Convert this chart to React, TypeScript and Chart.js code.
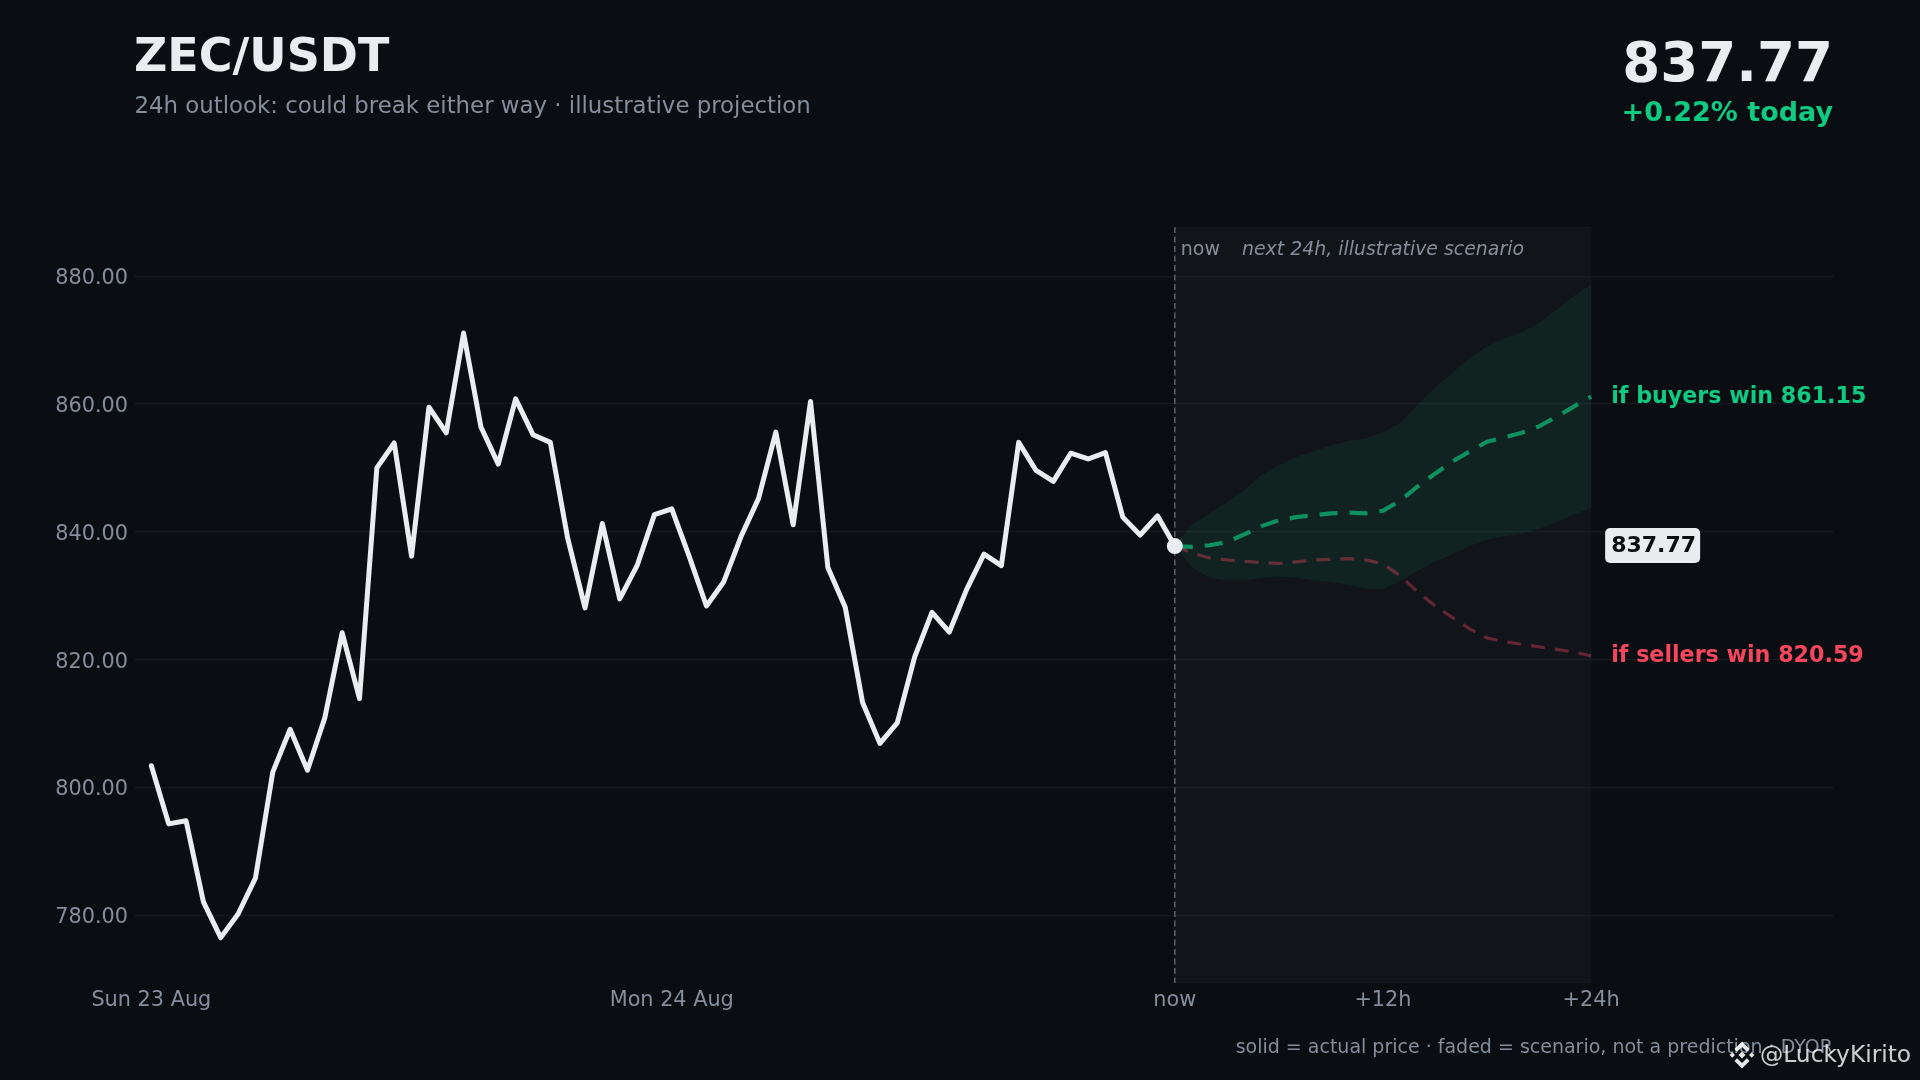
import { useEffect, useRef } from 'react';
import Chart from 'chart.js/auto';

const priceHistory = [
  803.4, 794.3, 794.8, 782.1, 776.5, 780.2, 785.8, 802.4, 809.1, 802.7,
  810.9, 824.2, 813.9, 850.0, 853.9, 836.2, 859.5, 855.5, 871.1, 856.4,
  850.6, 860.8, 855.2, 854.0, 839.0, 828.1, 841.3, 829.5, 834.7, 842.7,
  843.6, 836.2, 828.4, 832.2, 839.3, 845.2, 855.6, 841.1, 860.4, 834.4,
  828.2, 813.3, 806.9, 810.1, 820.4, 827.4, 824.3, 831.0, 836.5, 834.7,
  854.0, 849.6, 847.9, 852.3, 851.4, 852.4, 842.3, 839.5, 842.5, 837.77,
];
const buyersPath = [
  837.77, 837.66, 837.9, 838.4, 839.6, 840.9, 841.8, 842.3, 842.6, 842.9, 843.0, 842.9, 843.3,
  844.9, 847.1, 849.1, 851.0, 852.6, 854.1, 854.8, 855.5, 856.5, 858.0, 859.6, 861.15,
];
const sellersPath = [
  837.77, 836.7, 835.9, 835.6, 835.4, 835.2, 835.05, 835.3, 835.6, 835.7, 835.8, 835.6, 835.0,
  833.1, 830.6, 828.4, 826.6, 824.8, 823.4, 822.8, 822.4, 822.0, 821.6, 821.2, 820.59,
];
const bandUpper = [
  837.77, 841.1, 842.9, 844.6, 846.5, 848.9, 850.4, 851.7, 852.6, 853.5, 854.2, 854.6, 855.6,
  857.0, 859.9, 862.6, 864.9, 867.2, 869.0, 870.3, 871.2, 872.7, 874.7, 876.9, 878.7,
];
const bandLower = [
  837.77, 834.4, 832.8, 832.4, 832.4, 832.8, 833.0, 832.8, 832.4, 832.1, 831.7, 831.1, 831.0,
  832.3, 833.9, 835.3, 836.5, 837.8, 838.8, 839.3, 839.7, 840.5, 841.5, 842.7, 843.8,
];
const yTicks = [780, 800, 820, 840, 860, 880];
const xTicks = [-59, -29, 0, 12, 24];
const xTickLabels = ['Sun 23 Aug', 'Mon 24 Aug', 'now', '+12h', '+24h'];

const lastPrice = 837.77;
const buyersTarget = 861.15;
const sellersTarget = 820.59;

const BG = '#0a0e12';
const WHITE = '#eaecef';
const GREY = '#848e9c';
const GREEN = '#0ecb81';
const RED = '#f6465d';
const FONT = '"DejaVu Sans", sans-serif';

const past = priceHistory.map((y, i) => ({ x: i - priceHistory.length + 1, y }));
const future = (arr: number[]) => arr.map((y, i) => ({ x: i, y }));

function text(
  ctx: CanvasRenderingContext2D,
  str: string,
  x: number,
  y: number,
  font: string,
  color: string,
  align: CanvasTextAlign = 'left',
  baseline: CanvasTextBaseline = 'alphabetic',
) {
  ctx.font = font;
  ctx.fillStyle = color;
  ctx.textAlign = align;
  ctx.textBaseline = baseline;
  ctx.fillText(str, x, y);
}

// binance mark in the watermark
function drawLogo(ctx: CanvasRenderingContext2D, cx: number, cy: number, r: number) {
  const diamond = (x: number, y: number, s: number) => {
    ctx.beginPath();
    ctx.moveTo(x, y - s);
    ctx.lineTo(x + s, y);
    ctx.lineTo(x, y + s);
    ctx.lineTo(x - s, y);
    ctx.closePath();
    ctx.fill();
  };
  const chevron = (dir: number) => {
    const a = r * 0.56;
    const t = r * 0.2;
    ctx.beginPath();
    ctx.moveTo(cx, cy + dir * r);
    ctx.lineTo(cx + a, cy + dir * (r - a));
    ctx.lineTo(cx + a - t, cy + dir * (r - a - t));
    ctx.lineTo(cx, cy + dir * (r - 2 * t));
    ctx.lineTo(cx - a + t, cy + dir * (r - a - t));
    ctx.lineTo(cx - a, cy + dir * (r - a));
    ctx.closePath();
    ctx.fill();
  };
  ctx.fillStyle = 'rgba(255,255,255,0.9)';
  diamond(cx, cy, r * 0.26);
  diamond(cx - r * 0.72, cy, r * 0.2);
  diamond(cx + r * 0.72, cy, r * 0.2);
  chevron(-1);
  chevron(1);
}

const annotations = {
  id: 'annotations',
  beforeDraw(chart: any) {
    const { ctx, width, height } = chart;
    ctx.save();
    ctx.fillStyle = BG;
    ctx.fillRect(0, 0, width, height);
    ctx.restore();
  },
  beforeDatasetsDraw(chart: any) {
    const { ctx, chartArea, scales } = chart;
    const x0 = scales.x.getPixelForValue(0);
    const x24 = scales.x.getPixelForValue(24);
    ctx.save();
    ctx.fillStyle = 'rgba(255,255,255,0.03)';
    ctx.fillRect(x0, chartArea.top, x24 - x0, chartArea.bottom - chartArea.top);
    ctx.strokeStyle = 'rgba(255,255,255,0.03)';
    ctx.lineWidth = 1;
    ctx.strokeRect(x0, chartArea.top, x24 - x0, chartArea.bottom - chartArea.top);
    ctx.strokeStyle = '#5b6068';
    ctx.lineWidth = 1.5;
    ctx.setLineDash([6, 3.5]);
    ctx.beginPath();
    ctx.moveTo(x0, chartArea.top);
    ctx.lineTo(x0, chartArea.bottom);
    ctx.stroke();
    ctx.restore();
  },
  afterDatasetsDraw(chart: any) {
    const { ctx, scales } = chart;
    const x = scales.x;
    const y = scales.y;
    const labelX = x.getPixelForValue(24) + 20;
    ctx.save();

    text(ctx, 'ZEC/USDT', 134, 71, `bold 46px ${FONT}`, WHITE);
    text(ctx, '24h outlook: could break either way · illustrative projection', 134.5, 113, `22.85px ${FONT}`, GREY);
    text(ctx, '837.77', 1833, 81, `bold 54.6px ${FONT}`, WHITE, 'right');
    text(ctx, '+0.22% today', 1833, 121, `bold 27px ${FONT}`, GREEN, 'right');

    text(ctx, 'now', x.getPixelForValue(0) + 6, 250, `19px ${FONT}`, GREY, 'left', 'middle');
    text(ctx, 'next 24h, illustrative scenario', 1242, 250, `italic 18.9px ${FONT}`, GREY, 'left', 'middle');

    text(ctx, `if buyers win ${buyersTarget.toFixed(2)}`, labelX, y.getPixelForValue(buyersTarget) + 0.5, `bold 22.2px ${FONT}`, GREEN, 'left', 'middle');
    text(ctx, `if sellers win ${sellersTarget.toFixed(2)}`, labelX, y.getPixelForValue(sellersTarget), `bold 22.2px ${FONT}`, RED, 'left', 'middle');

    const tagY = y.getPixelForValue(lastPrice);
    ctx.fillStyle = WHITE;
    ctx.beginPath();
    ctx.roundRect(labelX - 6, tagY - 18, 95, 35, 5);
    ctx.fill();
    text(ctx, lastPrice.toFixed(2), labelX, tagY + 0.5, `bold 22px ${FONT}`, '#0a0e12', 'left', 'middle');

    text(ctx, 'solid = actual price · faded = scenario, not a prediction · DYOR', 1833, 1048.5, `19px ${FONT}`, GREY, 'right', 'middle');

    drawLogo(ctx, 1742, 1055, 13.5);
    text(ctx, '@LuckyKirito', 1760, 1056, `23.3px ${FONT}`, 'rgba(255,255,255,0.8)', 'left', 'middle');
    ctx.restore();
  },
};

export default function App() {
  const canvasRef = useRef<HTMLCanvasElement | null>(null);

  useEffect(() => {
    document.body.style.margin = '0';
    document.body.style.background = BG;
    if (!canvasRef.current) return;
    const chart = new Chart(canvasRef.current, {
      type: 'line',
      data: {
        datasets: [
          {
            data: [{ x: 0, y: lastPrice }],
            pointRadius: 8,
            pointBackgroundColor: WHITE,
            pointBorderWidth: 0,
            showLine: false,
          },
          {
            data: past,
            borderColor: WHITE,
            borderWidth: 5,
            pointRadius: 0,
            borderJoinStyle: 'round',
            borderCapStyle: 'round',
          },
          {
            data: future(buyersPath),
            borderColor: 'rgba(14,203,129,0.65)',
            borderWidth: 4.2,
            borderDash: [18, 12],
            pointRadius: 0,
          },
          {
            data: future(sellersPath),
            borderColor: 'rgba(246,70,93,0.36)',
            borderWidth: 3.2,
            borderDash: [14, 10],
            pointRadius: 0,
          },
          {
            data: future(bandUpper),
            borderWidth: 0,
            pointRadius: 0,
            fill: '+1',
            backgroundColor: 'rgba(14,203,129,0.08)',
          },
          {
            data: future(bandLower),
            borderWidth: 0,
            pointRadius: 0,
          },
        ],
      },
      options: {
        responsive: false,
        animation: false,
        events: [],
        layout: { padding: { top: 227, right: 86, left: 0, bottom: 0 } },
        plugins: { legend: { display: false }, tooltip: { enabled: false } },
        scales: {
          x: {
            type: 'linear',
            min: -60,
            max: 38,
            grid: { display: false },
            border: { display: false },
            afterFit: (s: any) => {
              s.height = 97;
            },
            afterBuildTicks: (s: any) => {
              s.ticks = xTicks.map((value) => ({ value }));
            },
            ticks: {
              autoSkip: false,
              maxRotation: 0,
              padding: -3,
              color: GREY,
              font: { family: FONT, size: 20.8 },
              callback: (v: any) => xTickLabels[xTicks.indexOf(Number(v))] ?? '',
            },
          },
          y: {
            min: 769.4,
            max: 887.7,
            grid: { color: '#141a20', lineWidth: 1.2, drawTicks: false },
            border: { display: false },
            afterFit: (s: any) => {
              s.width = 134;
            },
            afterBuildTicks: (s: any) => {
              s.ticks = yTicks.map((value) => ({ value }));
            },
            ticks: {
              padding: 6,
              labelOffset: 2.5,
              color: GREY,
              font: { family: FONT, size: 20.8 },
              callback: (v: any) => Number(v).toFixed(2),
            },
          },
        },
      },
      plugins: [annotations],
    } as any);
    return () => chart.destroy();
  }, []);

  return <canvas ref={canvasRef} width={1920} height={1080} style={{ display: 'block' }} />;
}
